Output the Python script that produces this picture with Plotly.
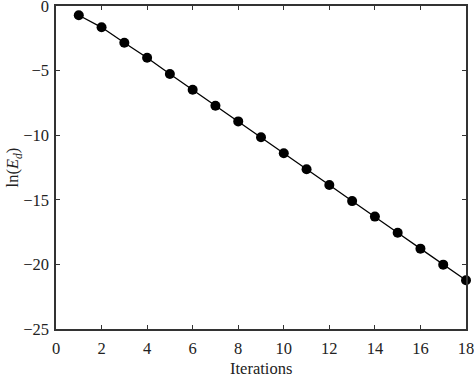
import plotly.graph_objects as go

iterations = list(range(1, 19))
ln_ed = [-0.72, -1.65, -2.84, -4.0, -5.26, -6.48, -7.72, -8.93, -10.16,
         -11.4, -12.64, -13.85, -15.1, -16.3, -17.55, -18.78, -20.02, -21.23]

x_ticks = [0, 2, 4, 6, 8, 10, 12, 14, 16, 18]
y_ticks = [0, -5, -10, -15, -20, -25]

font = dict(family="Liberation Serif, Times New Roman, serif", size=16.5, color="#222")

fig = go.Figure()
fig.add_trace(go.Scatter(
    x=iterations, y=ln_ed, mode="lines+markers",
    line=dict(color="black", width=1.3),
    marker=dict(color="black", size=10),
    cliponaxis=False, showlegend=False,
))

axis_common = dict(
    showgrid=False, zeroline=False, showline=True, linecolor="#333", linewidth=1.5,
    mirror="ticks", ticks="inside", ticklen=4, tickwidth=1.3, tickcolor="#333",
    tickfont=font, ticklabeloverflow="allow", automargin=False,
)

fig.update_layout(
    width=474, height=375,
    margin=dict(l=56, r=8, t=6, b=46),
    plot_bgcolor="white", paper_bgcolor="white",
    font=font,
    xaxis=dict(range=[0, 18], tickvals=x_ticks, ticklabelstandoff=3, **axis_common),
    yaxis=dict(range=[-25, 0], tickvals=y_ticks, ticklabelstandoff=2, **axis_common),
    annotations=[
        dict(text="Iterations", xref="paper", yref="paper", x=0.5, y=-0.122,
             xanchor="center", yanchor="middle", showarrow=False, font=font),
        dict(text="ln(<i>E<sub>d</sub></i>)", xref="paper", yref="paper", x=-0.105, y=0.5,
             xanchor="center", yanchor="middle", textangle=-90, showarrow=False, font=font),
    ],
)

fig.write_html("out.html")
